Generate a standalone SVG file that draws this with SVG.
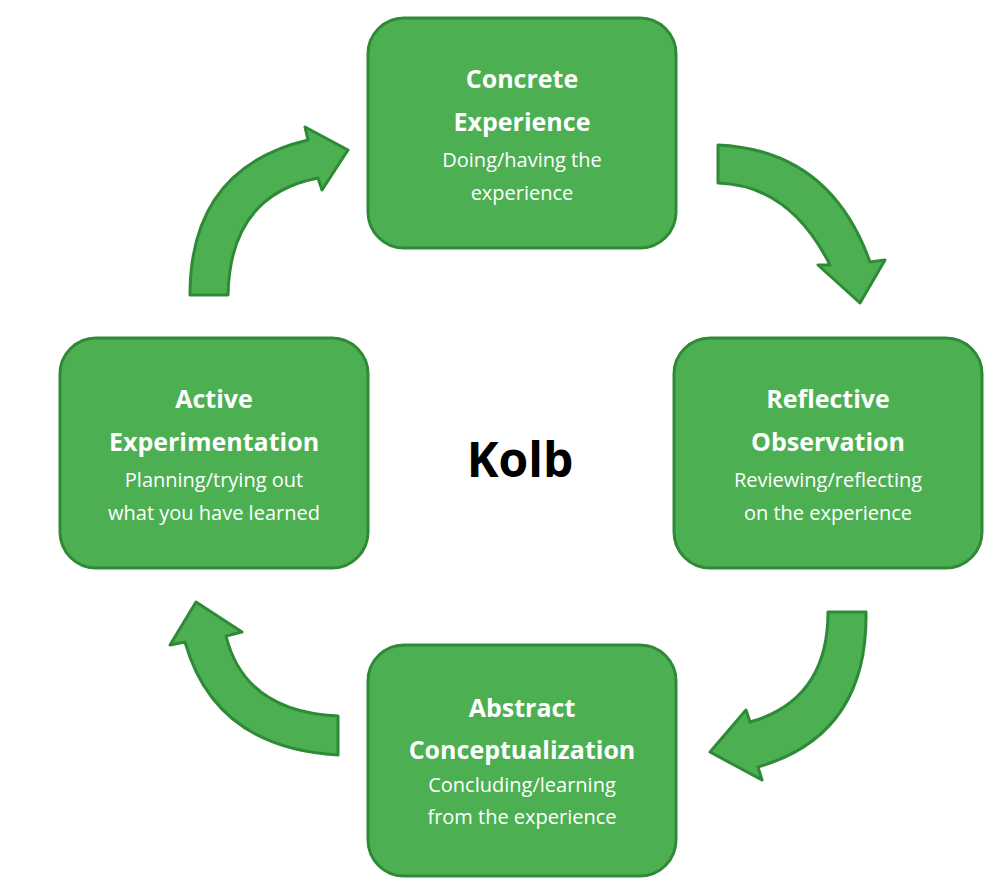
<svg xmlns="http://www.w3.org/2000/svg" width="999" height="891" viewBox="0 0 999 891">
<style>
.box{fill:#4cb052;stroke:#2f8a38;stroke-width:3}
.arr{fill:#4cb052;stroke:#2f8a38;stroke-width:3;stroke-linejoin:round}
.t{font-family:"Open Sans","Liberation Sans",sans-serif;font-weight:bold;font-size:25px;fill:#fff;text-anchor:middle}
.s{font-family:"Open Sans","Liberation Sans",sans-serif;font-size:20px;fill:#fff;text-anchor:middle}
</style>
<rect width="999" height="891" fill="#fff"/>
<g id="connectors">
<path class="arr" d="M718,145 Q830,150 870,262 L885,260 L860,303 L818,265 L830,265 Q790,185 718,183 Z"/>
<path class="arr" d="M866,612 Q868,735 758,767 L762,780 L710,752 L746,710 L750,722 Q828,700 828,612 Z"/>
<path class="arr" d="M338,755 Q215,748 185,642 L170,645 L196,602 L242,632 L226,636 Q245,712 338,716 Z"/>
<path class="arr" d="M190,295 Q190,168 308,140 L305,127 L348,150 L322,190 L318,178 Q230,195 228,295 Z"/>
</g>
<g id="ce"><rect class="box" x="368" y="18" width="308" height="230" rx="36"/>
<text class="t" x="522" y="88">Concrete</text><text class="t" x="522" y="131">Experience</text>
<text class="s" x="522" y="167">Doing/having the</text><text class="s" x="522" y="200">experience</text></g>
<g id="ro"><rect class="box" x="674" y="338" width="308" height="230" rx="36"/>
<text class="t" x="828" y="408">Reflective</text><text class="t" x="828" y="451">Observation</text>
<text class="s" x="828" y="487">Reviewing/reflecting</text><text class="s" x="828" y="520">on the experience</text></g>
<g id="ac"><rect class="box" x="368" y="645" width="308" height="231" rx="36"/>
<text class="t" x="522" y="717">Abstract</text><text class="t" x="522" y="759">Conceptualization</text>
<text class="s" x="522" y="792">Concluding/learning</text><text class="s" x="522" y="824">from the experience</text></g>
<g id="ae"><rect class="box" x="60" y="338" width="308" height="230" rx="36"/>
<text class="t" x="214" y="408">Active</text><text class="t" x="214" y="451">Experimentation</text>
<text class="s" x="214" y="487">Planning/trying out</text><text class="s" x="214" y="520">what you have learned</text></g>
<text x="520" y="477" font-family="Open Sans,Liberation Sans,sans-serif" font-weight="bold" font-size="48" text-anchor="middle" fill="#000">Kolb</text>
</svg>
